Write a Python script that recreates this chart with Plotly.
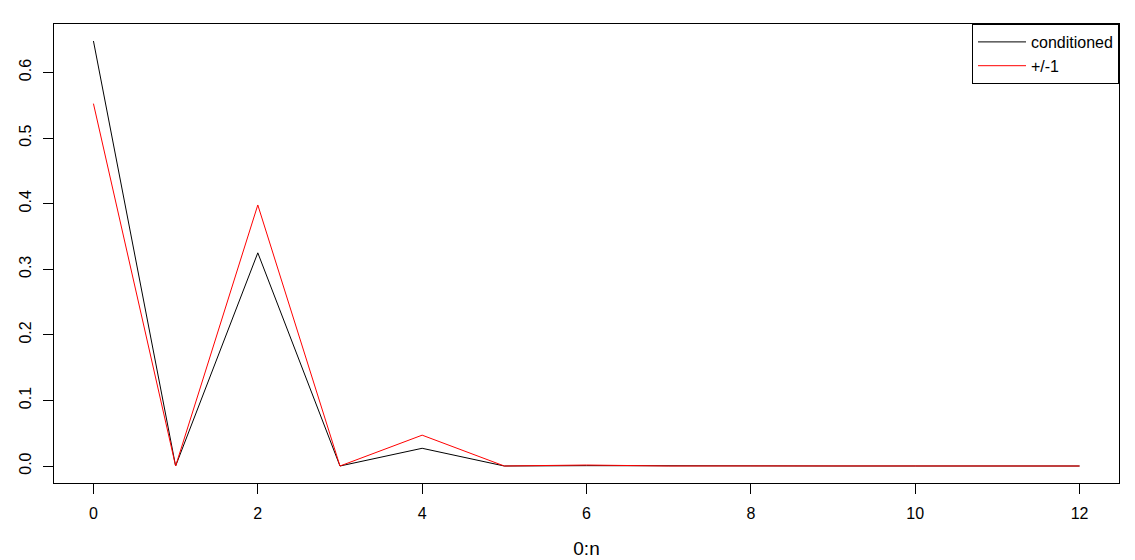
import plotly.graph_objects as go

# distribution values, index 0:n with n = 12
n_vals = list(range(13))
conditioned = [0.648, 0.0, 0.325, 0.0, 0.027, 0.0, 0.0005, 0.0, 0.0, 0.0, 0.0, 0.0, 0.0]
plus_minus_1 = [0.5525, 0.0, 0.398, 0.0, 0.047, 0.0, 0.0015, 0.0, 0.0001, 0.0, 0.0, 0.0, 0.0]

x_ticks = [0, 2, 4, 6, 8, 10, 12]
y_ticks = [0.0, 0.1, 0.2, 0.3, 0.4, 0.5, 0.6]
y_labels = ['0.0', '0.1', '0.2', '0.3', '0.4', '0.5', '0.6']

font = dict(family='Liberation Sans, Arial, sans-serif', size=16, color='black')

fig = go.Figure()
fig.add_trace(go.Scatter(x=n_vals, y=conditioned, mode='lines', name='conditioned',
                         line=dict(color='black', width=1)))
fig.add_trace(go.Scatter(x=n_vals, y=plus_minus_1, mode='lines', name='+/-1',
                         line=dict(color='red', width=1)))

ymax = max(max(conditioned), max(plus_minus_1))
pad = 0.04 * ymax

# page body adds ~8px offset, margins compensate for it
fig.update_layout(
    width=1135, height=560,
    margin=dict(l=46, r=24, t=16, b=85),
    paper_bgcolor='white', plot_bgcolor='white',
    font=font,
    showlegend=True,
    legend=dict(x=1, y=1, xanchor='right', yanchor='top',
                bordercolor='black', borderwidth=1, bgcolor='white',
                font=font, tracegroupgap=0, itemwidth=48),
    xaxis=dict(range=[-0.48, 12.48], tickvals=x_ticks, ticks='outside', ticklen=10,
               tickcolor='black', showline=True, linecolor='black', linewidth=1,
               mirror=True, showgrid=False, zeroline=False, ticklabelstandoff=6,
               automargin=False,
               title=dict(text='0:n', standoff=20), tickfont=font),
    yaxis=dict(range=[-pad, ymax + pad], tickvals=y_ticks, ticktext=y_labels,
               ticks='outside', ticklen=10, tickcolor='black', tickangle=-90,
               showline=True, linecolor='black', linewidth=1, mirror=True,
               showgrid=False, zeroline=False, ticklabelstandoff=6,
               automargin=False, tickfont=font),
)

fig.write_html("out.html")
